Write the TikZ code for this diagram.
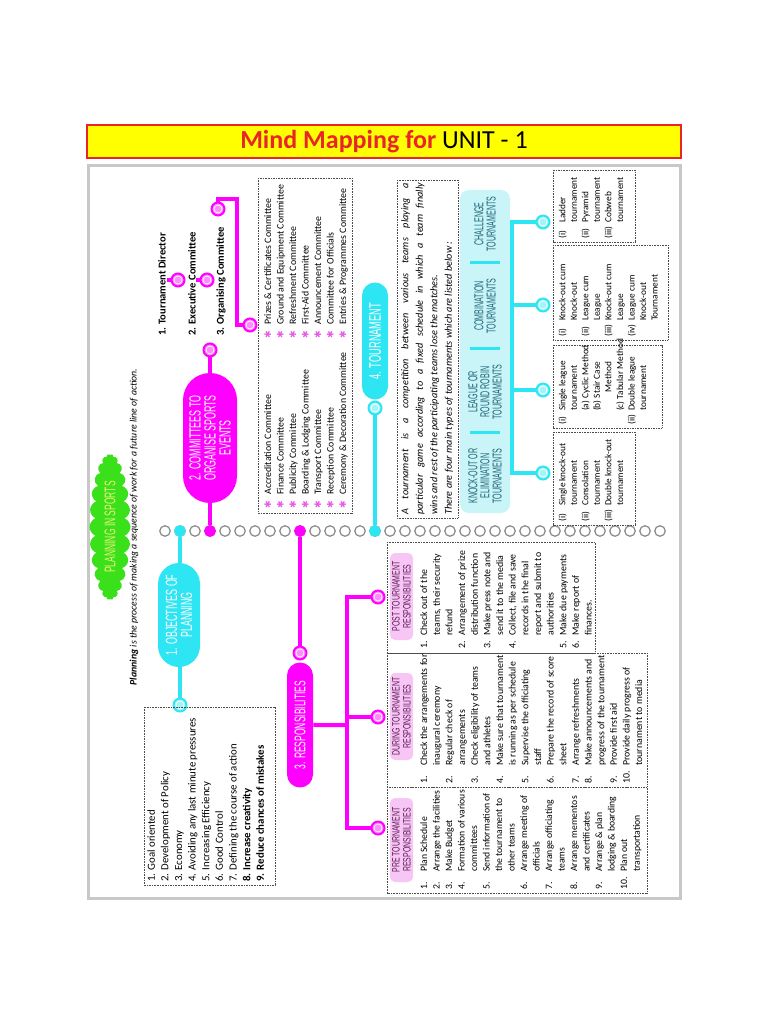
\documentclass[tikz,border=0pt]{standalone}
\usepackage{fontspec}
\setmainfont{Carlito}
\newfontfamily\headfont[FakeStretch=0.55]{Liberation Sans}
\newfontfamily\tagfont[FakeStretch=0.65]{Liberation Sans}
\newfontfamily\symfont{DejaVu Sans}
\usetikzlibrary{shapes.misc,shapes.symbols,backgrounds}

\definecolor{tred}{HTML}{E8262A}
\definecolor{tyellow}{HTML}{FFFF00}
\definecolor{tmag}{HTML}{FF00FF}
\definecolor{tcyan}{HTML}{2EE6F3}
\definecolor{tpanel}{HTML}{C9F4F8}
\definecolor{tpink}{HTML}{F8C6F4}
\definecolor{ttag}{HTML}{5C1A57}
\definecolor{tteal}{HTML}{1E6577}
\definecolor{tgreen}{HTML}{3AE01A}
\definecolor{tplan}{HTML}{EDF27A}
\definecolor{tbul}{HTML}{E65CE6}
\definecolor{tframe}{HTML}{C8C8C8}

\newcommand\pxu{0.25mm}
\newcommand\fsz[2]{\fontsize{#1}{#2}\selectfont}
\newcommand\cbul{{\symfont\color{tbul}\fsz{6.5}{6.5}✱}}

\begin{document}
\begin{tikzpicture}[x=0.25mm, y=-0.25mm,
  pill/.style={rounded rectangle, rotate=90, text=white, align=center, inner sep=0pt, font=\headfont\fsz{11.5}{10.7}},
  ringM/.style={circle, inner sep=0pt, minimum size={13*\pxu}, draw=tmag, fill=tmag!45, line width=1.4pt,
    path picture={\draw[white, line width=0.5pt] (path picture bounding box.center) circle ({4*\pxu});}},
  ringC/.style={ringM, draw=tcyan, fill=tcyan!45},
  rowdot/.style={circle, inner sep=0pt, minimum size={10.5*\pxu}, draw=black!45, line width=0.9pt, fill=white},
  mline/.style={draw=tmag, line width={4*\pxu}},
  cline/.style={draw=tcyan, line width={4.5*\pxu}},
  dashbox/.style={draw=black!70, line width=0.35pt, dash pattern=on 0.7pt off 0.45pt},
  listtext/.style={rotate=90, anchor=north west, inner sep=0pt},
  resptag/.style={rotate=90, fill=tpink, rounded corners={5*\pxu}, align=center, text=ttag, inner sep=0pt, font=\tagfont\fsz{7.6}{7.8}},
  phead/.style={rotate=90, align=center, text=tteal, inner sep=0pt, font=\headfont\fsz{9.2}{8.6}}
]
\useasboundingbox (0,0) rectangle (768,1024);

% title bar
\node[draw=tred, fill=tyellow, line width=0.8pt, minimum width={594*\pxu}, minimum height={33*\pxu}, inner sep=0pt] (title) at (384,141.5)
  {\fsz{18.5}{18.5}\textcolor{tred}{\bfseries Mind Mapping for} UNIT - 1};

% planning in sports
\node[cloud, cloud puffs=26, cloud puff arc=140, cloud ignores aspect, fill=tgreen, rotate=90, inner sep=0pt,
  minimum width={146*\pxu}, minimum height={41*\pxu}] (plancloud) at (110,527) {};
\node[rotate=90, text=tplan, inner sep=0pt, font=\headfont\fsz{11}{11}] (plan) at (plancloud) {PLANNING IN SPORTS};
\node[rotate=90, inner sep=0pt, font=\itshape\fsz{7}{8}] (defn) at (134,527)
  {\textbf{Planning} is the process of making a sequence of work for a future line of action.};

% row of dots
\foreach \k in {0,...,33}
  \node[rowdot] (d\k) at ({165+15*\k},531) {};
\foreach \k/\c in {1/tcyan,3/tmag,9/tmag,14/tcyan}
  \node[rowdot, draw=\c, fill=\c] (f\k) at (d\k) {};

% 1. objectives
\node[pill, fill=tcyan, minimum width={104*\pxu}, minimum height={42*\pxu}] (obj) at (179,615) {1. OBJECTIVES OF\\PLANNING};
\node[ringC] (objring) at (180,705) {};
\draw[dashbox] (144,707) rectangle (275,885);
\node[listtext, align=left, font=\fsz{7.7}{9.7}] (objlist) at (147,882)
  {1. Goal oriented\\2. Development of Policy\\3. Economy\\4. Avoiding any last minute pressures\\5. Increasing Efficiency\\6. Good Control\\7. Defining the course of action\\\textbf{8. Increase creativity}\\\textbf{9. Reduce chances of mistakes}};

% 2. committees
\node[pill, fill=tmag, minimum width={130*\pxu}, minimum height={54*\pxu}] (com) at (210,438) {2. COMMITTEES TO\\ORGANISE SPORTS\\EVENTS};
\node[ringM] (comring) at (210,350) {};
\node[rotate=90, anchor=west, inner sep=0pt, font=\bfseries\fsz{7.5}{9}] (dir) at (162,336) {1. Tournament Director};
\node[rotate=90, anchor=west, inner sep=0pt, font=\bfseries\fsz{7.5}{9}] (exe) at (192,336) {2. Executive Committee};
\node[rotate=90, anchor=west, inner sep=0pt, font=\bfseries\fsz{7.5}{9}] (org) at (221,336) {3. Organising Committee};
\node[ringM] (dirring) at (178,280) {};
\node[ringM] (exering) at (207,280) {};
\node[ringM] (orgring) at (218,209) {};
\node[ringM] (boxring) at (250,325) {};
\coordinate (dirstub) at (167,280);
\coordinate (exestub) at (196,280);
\coordinate (bkt) at (237,199);
\draw[dashbox] (258,178) rectangle (352,513);
\node[listtext, font=\fsz{7}{8.9}] (comleft) at (262,509)
  {\begin{tabular}{@{}l@{\hspace{1.6mm}}l@{}}
   \cbul & Accreditation Committee\\ \cbul & Finance Committee\\ \cbul & Publicity Committee\\
   \cbul & Boarding \& Lodging Committee\\ \cbul & Transport Committee\\ \cbul & Reception Committee\\
   \cbul & Ceremony \& Decoration Committee\end{tabular}};
\node[listtext, font=\fsz{7}{8.9}] (comright) at (262,339)
  {\begin{tabular}{@{}l@{\hspace{1.6mm}}l@{}}
   \cbul & Prizes \& Certificates Committee\\ \cbul & Ground and Equipment Committee\\ \cbul & Refreshment Committee\\
   \cbul & First-Aid Committee\\ \cbul & Announcement Committee\\ \cbul & Committee for Officials\\
   \cbul & Entries \& Programmes Committee\end{tabular}};

% 3. responsibilities
\node[pill, fill=tmag, minimum width={125*\pxu}, minimum height={26*\pxu}, font=\headfont\fsz{11}{11}] (resp) at (300,725) {3. RESPONSIBILITIES};
\node[ringM] (respring) at (300,653) {};
\coordinate (rj) at (347,725);
\node[ringM] (postring) at (378,597) {};
\node[ringM] (duringring) at (378,717) {};
\node[ringM] (prering) at (378,828) {};
\draw[dashbox] (387,542) rectangle (595,653);
\draw[dashbox] (387,653) rectangle (647,787);
\draw[dashbox] (387,787) rectangle (647,893);
\node[resptag, minimum width={87*\pxu}, minimum height={23*\pxu}] (posttag) at (401.5,596.5) {POST TOURNAMENT\\RESPONSIBILITIES};
\node[resptag, minimum width={87*\pxu}, minimum height={23*\pxu}] (duringtag) at (401.5,716.5) {DURING TOURNAMENT\\RESPONSIBILITIES};
\node[resptag, minimum width={84*\pxu}, minimum height={23*\pxu}] (pretag) at (401.5,840) {PRE TOURNAMENT\\RESPONSIBILITIES};
\node[listtext, font=\fsz{7}{9}] (postlist) at (418,649)
  {\begin{tabular}{@{}l@{\hspace{1.4mm}}l@{}}
   1. & Check out of the\\ & teams, their security\\ & refund\\
   2. & Arrangement of prize\\ & distribution function\\
   3. & Make press note and\\ & send it to the media\\
   4. & Collect, file and save\\ & records in the final\\ & report and submit to\\ & authorities\\
   5. & Make due payments\\
   6. & Make report of\\ & finances.\end{tabular}};
\node[listtext, font=\fsz{7}{9}] (duringlist) at (418,784)
  {\begin{tabular}{@{}l@{\hspace{1.4mm}}l@{}}
   1. & Check the arrangements for\\ & inaugural ceremony\\
   2. & Regular check of\\ & arrangements\\
   3. & Check eligibility of teams\\ & and athletes\\
   4. & Make sure that tournament\\ & is running as per schedule\\
   5. & Supervise the officiating\\ & staff\\
   6. & Prepare the record of score\\ & sheet\\
   7. & Arrange refreshments\\
   8. & Make announcements and\\ & progress of the tournament\\
   9. & Provide first aid\\
   10.& Provide daily progress of\\ & tournament to media\end{tabular}};
\node[listtext, font=\fsz{6.9}{8.9}] (prelist) at (418,890)
  {\begin{tabular}{@{}l@{\hspace{1.4mm}}l@{}}
   1. & Plan Schedule\\
   2. & Arrange the facilities\\
   3. & Make Budget\\
   4. & Formation of various\\ & committees\\
   5. & Send information of\\ & the tournament to\\ & other teams\\
   6. & Arrange meeting of\\ & officials\\
   7. & Arrange officiating\\ & teams\\
   8. & Arrange mementos\\ & and certificates\\
   9. & Arrange \& plan\\ & lodging \& boarding\\
   10.& Plan out\\ & transportation\end{tabular}};

% 4. tournament
\node[pill, fill=tcyan, minimum width={117*\pxu}, minimum height={26*\pxu}, font=\headfont\fsz{12}{12}] (tour) at (375,341) {4. TOURNAMENT};
\node[ringC] (tourring) at (375,408) {};
\draw[dashbox] (397,180) rectangle (458,518);
\node[listtext, text width={332*\pxu}, align=justify, font=\itshape\fsz{7.3}{10.3}] (tdef) at (401,515)
  {A tournament is a competition between various teams playing a\linebreak
   particular game according to a fixed schedule in which a team finally\linebreak
   wins and rest of the participating teams lose the matches.\\
   There are four main types of tournaments which are listed below :};
\node[phead] (hko) at (485,476) {KNOCK-OUT OR\\ELIMINATION\\TOURNAMENTS};
\node[phead] (hlg) at (485,392) {LEAGUE OR\\ROUND ROBIN\\TOURNAMENTS};
\node[phead] (hcb) at (485,306) {COMBINATION\\TOURNAMENTS};
\node[phead] (hch) at (485,224) {CHALLENGE\\TOURNAMENTS};
\node[ringC] (koring) at (543,473) {};
\node[ringC] (lgring) at (543,390) {};
\node[ringC] (cbring) at (543,305) {};
\node[ringC] (chring) at (543,222) {};
\coordinate (tb) at (512,473);
\draw[dashbox] (553,432) rectangle (635,525);
\draw[dashbox] (553,345) rectangle (662,428);
\draw[dashbox] (553,245) rectangle (668,340);
\draw[dashbox] (553,170) rectangle (635,242);
\node[listtext, font=\fsz{6.6}{8.2}] (kolist) at (557,522)
  {\begin{tabular}{@{}l@{\hspace{1mm}}l@{}}
   (i) & Single knock-out\\ & tournament\\ (ii) & Consolation\\ & tournament\\ (iii) & Double knock-out\\ & tournament\end{tabular}};
\node[listtext, font=\fsz{6.6}{8.2}] (lglist) at (557,425)
  {\begin{tabular}{@{}l@{\hspace{1mm}}l@{}}
   (i) & Single league\\ & tournament\\ & (a) Cyclic Method\\ & (b) Stair Case\\ & \qquad Method\\ & (c) Tabular Method\\ (ii) & Double league\\ & tournament\end{tabular}};
\node[listtext, font=\fsz{6.6}{8.2}] (cblist) at (557,337)
  {\begin{tabular}{@{}l@{\hspace{1mm}}l@{}}
   (i) & Knock-out cum\\ & Knock-out\\ (ii) & League cum\\ & League\\ (iii) & Knock-out cum\\ & League\\ (iv) & League cum\\ & Knock-out\\ & Tournament\end{tabular}};
\node[listtext, font=\fsz{6.6}{8.2}] (chlist) at (557,239)
  {\begin{tabular}{@{}l@{\hspace{1mm}}l@{}}
   (i) & Ladder\\ & tournament\\ (ii) & Pyramid\\ & tournament\\ (iii) & Cobweb\\ & tournament\end{tabular}};

\begin{scope}[on background layer]
  \draw[draw=tframe, line width={3*\pxu}] (88,166) rectangle (680,898);
  \fill[tpanel, rounded corners={9*\pxu}] (460,190) rectangle (510,513);
  \foreach \s in {263,348,432}
    \draw[tcyan, line width={3*\pxu}] (470,\s) -- (500,\s);
  \draw[cline] (f1) -- (objring);
  \draw[mline] (comring) -- (f3);
  \draw[mline] (dirring) -- (dirstub);
  \draw[mline] (exering) -- (exestub);
  \draw[mline] (orgring) |- (bkt) |- (boxring);
  \draw[mline] (f9) -- (respring);
  \draw[mline] (resp) -- (rj);
  \draw[mline] (postring) -| (rj) |- (prering);
  \draw[mline] (duringring) -- (duringring -| rj);
  \draw[cline] (f14) -- (tourring);
  \draw[cline] (chring) -| (tb) -- (koring);
  \draw[cline] (cbring) -- (cbring -| tb);
  \draw[cline] (lgring) -- (lgring -| tb);
\end{scope}
\end{tikzpicture}
\end{document}
